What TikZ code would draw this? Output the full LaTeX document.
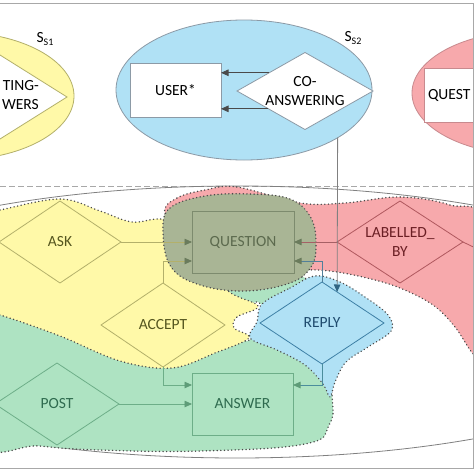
\documentclass[tikz,border=0pt]{standalone}
\usepackage{fontspec}
\setmainfont{Carlito}
\usetikzlibrary{shapes.geometric,arrows.meta}
\definecolor{ylw}{HTML}{FFF9A8}
\definecolor{grn}{HTML}{AEE3C2}
\definecolor{blu}{HTML}{B0E1F5}
\definecolor{pnk}{HTML}{F7A9AC}
\definecolor{olv}{HTML}{A9B595}
\definecolor{prp}{HTML}{B5A9C8}
\definecolor{dotc}{HTML}{4A4A4A}
\definecolor{frame}{HTML}{A8A8A8}
\definecolor{ylwB}{HTML}{B3B06A}
\definecolor{ylwT}{HTML}{55561F}
\definecolor{olvB}{HTML}{7D8B6E}
\definecolor{olvT}{HTML}{5C6A4E}
\definecolor{olvA}{HTML}{6A7B5C}
\definecolor{grnB}{HTML}{6DAE88}
\definecolor{grnT}{HTML}{2F6B4F}
\definecolor{grnA}{HTML}{5E9C78}
\definecolor{bluB}{HTML}{3D7FA5}
\definecolor{bluT}{HTML}{1F4B6E}
\definecolor{redB}{HTML}{B0585E}
\definecolor{redT}{HTML}{6B1F24}
\definecolor{topB}{HTML}{8C9AA6}
\definecolor{topA}{HTML}{4A4A4A}
\begin{document}
\begin{tikzpicture}[x=1pt,y=-1pt,
  every node/.style={font=\fontsize{15.5}{19}\selectfont},
  dia/.style={diamond, aspect=1.5, inner xsep=-30pt, inner ysep=-14pt, outer sep=0pt, align=center, line width=0.8pt},
  box/.style={rectangle, inner sep=3pt, outer sep=0pt, align=center, line width=0.8pt},
  grp/.style={ellipse, outer sep=0pt, line width=0.8pt},
  blob/.style={fill=#1, draw=dotc, line width=1.6pt, dash pattern=on 0.01pt off 3.6pt, line cap=round},
  conn/.style n args={2}{draw=#1, line width=0.8pt, -{Triangle[length=7.5pt,width=6.5pt,color=#2]}},
  plain/.style={draw=#1, line width=0.8pt}
]
\useasboundingbox (0,0) rectangle (474,474);
\clip (0,0) rectangle (474,474);
\fill[white] (0,0) rectangle (474,474);

% ---------- top row: subgraph patterns ----------
\node[grp, draw=ylwB, fill=ylw, minimum width=236pt, minimum height=128pt] (ss1) at (-44,96) {};
\node[grp, draw=topB, fill=blu, minimum width=256pt, minimum height=140pt] (ss2) at (244,90) {};
\node[grp, draw=redB!70, fill=pnk, minimum width=236pt, minimum height=124pt] (ss3) at (530,93) {};

\node (lss1) at (45,39) {S\raisebox{-0.4ex}{\fontsize{10}{10}\selectfont S1}};
\node (lss2) at (353,38) {S\raisebox{-0.4ex}{\fontsize{10}{10}\selectfont S2}};

\node[dia, draw=ylwB, fill=white, minimum width=134pt, minimum height=84pt] (vote) at (0,97) {};
\node[anchor=east, align=right, inner sep=0pt] (votet) at (39,95) {TING-\\WERS};

\node[dia, draw=topB, fill=white, minimum width=136pt, minimum height=77pt] (coans) at (305,91) {CO-\\ANSWERING};
\node[box, draw=topB, fill=white, minimum width=91pt, minimum height=54pt] (user) at (175.5,90) {USER*};
\node[box, draw=redB!70, fill=white, minimum width=136pt, minimum height=54pt, inner xsep=4pt,
      text width=128pt, align=left, anchor=west] (qtop) at (424,95) {QUEST};

\draw[conn={topA}{topA}] (coans.153.6) -- (user.east |- coans.153.6);
\draw[conn={topA}{topA}] (coans.206.4) -- (user.east |- coans.206.4);

% separator
\draw[frame, line width=0.9pt, dash pattern=on 6pt off 3pt] (0,186) -- (474,186);

% ---------- bottom: big ellipse and overlapping regions ----------
\draw[color=gray, line width=0.8pt] (237,322) ellipse [x radius=462pt, y radius=136pt];

% green region
\path[blob=grn] plot[smooth cycle, tension=0.7] coordinates {
  (-20,300) (110,298) (195,282) (250,276) (305,278) (322,320) (332,395)
  (329,425) (305,444) (200,451) (100,450) (40,446) (-20,438)};
% white gap
\path[blob=white] plot[smooth cycle, tension=0.7] coordinates {
  (258,302) (240,314) (232,326) (247,341) (263,320)};
% yellow region
\path[blob=ylw] plot[smooth cycle, tension=0.6] coordinates {
  (-20,214) (0,210) (60,199) (100,211) (132,222) (168,221) (200,258) (228,291)
  (258,306) (237,317) (234,328) (249,338) (215,353) (172,368) (120,361)
  (60,336) (0,315) (-20,312)};
% blue region
\path[blob=blu] plot[smooth cycle, tension=0.6] coordinates {
  (262,304) (290,288) (315,276) (340,282) (365,297) (388,315) (391,331)
  (368,347) (346,362) (335,382) (330,397) (323,384) (305,365) (277,350)
  (250,338) (257,322)};
% pink region
\path[blob=pnk] plot[smooth cycle, tension=0.6] coordinates {
  (165,214) (177,198) (205,190) (237,187) (300,203) (345,203) (400,197)
  (450,205) (485,225) (495,370) (474,355) (455,327) (433,305) (400,288)
  (367,278) (330,271) (300,270) (250,272) (190,255)};
% pink/blue overlap
\begin{scope}
  \clip plot[smooth cycle, tension=0.6] coordinates {
  (165,214) (177,198) (205,190) (237,187) (300,203) (345,203) (400,197)
  (450,205) (485,225) (495,370) (474,355) (455,327) (433,305) (400,288)
  (367,278) (330,271) (300,270) (250,272) (190,255)};
  \path[blob=prp] plot[smooth cycle, tension=0.6] coordinates {
  (262,304) (290,288) (315,276) (340,282) (365,297) (388,315) (391,331)
  (368,347) (346,362) (335,382) (330,397) (323,384) (305,365) (277,350)
  (250,338) (257,322)};
\end{scope}
% olive region (QUESTION)
\path[blob=olv] plot[smooth cycle, tension=0.65] coordinates {
  (163,232) (170,208) (205,196) (250,194) (290,199) (311,218) (316,245)
  (311,267) (290,283) (245,291) (200,285) (171,267)};

% ---------- bottom nodes ----------
\node[dia, draw=ylwB, text=ylwT, minimum width=122pt, minimum height=82pt] (ask) at (60,242) {ASK};
\node[dia, draw=ylwB, text=ylwT, minimum width=124pt, minimum height=84pt] (accept) at (163,325) {ACCEPT};
\node[dia, draw=grnB, text=grnT, minimum width=124pt, minimum height=82pt] (post) at (57,404) {POST};
\node[dia, draw=bluB, text=bluT, minimum width=124pt, minimum height=82pt] (reply) at (322,323) {REPLY};
\node[dia, draw=redB, text=redT, minimum width=126pt, minimum height=82pt] (lab) at (400,242) {LABELLED\_\\BY};
\node[box, draw=olvB, text=olvT, minimum width=102pt, minimum height=62pt] (question) at (243,242) {QUESTION};
\node[box, draw=grnB, text=grnT, minimum width=101pt, minimum height=62pt] (answer) at (242.5,404) {ANSWER};

\coordinate (lbe) at (488,254);
\draw[plain=redB] (lab.east) -- (lbe);

\draw[conn={ylwB}{olvA}] (ask.east) -- (question.west);
\draw[conn={ylwB}{olvA}] (accept.north) |- ([yshift=-19pt]question.west);
\draw[conn={redB!80!gray}{olvA}] (lab.west) -- (question.east);
\draw[conn={bluB!70!gray}{olvA}] (reply.north) |- ([yshift=-19pt]question.east);
\draw[conn={grnB}{grnA}] (accept.south) |- ([yshift=19pt]answer.west);
\draw[conn={grnB}{grnA}] (post.east) -- (answer.west);
\draw[conn={bluB!70!grnB}{grnA}] (reply.south) |- ([yshift=19pt]answer.east);

% S_S2 to REPLY
\draw[conn={gray}{bluB!80!black}] (ss2.-27.3) -- (reply.64);

% frame
\draw[frame, line width=1pt] (-2,3) -- (473,3) -- (473,468) -- (-2,468);
\end{tikzpicture}
\end{document}
